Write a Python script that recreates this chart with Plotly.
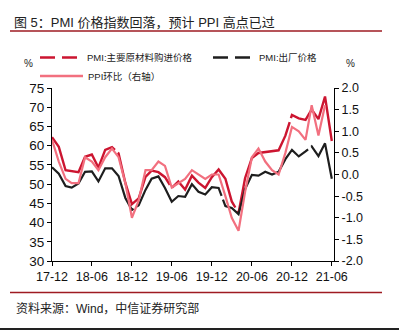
import pandas as pd
import plotly.graph_objects as go

# ---------------- data ----------------
months = pd.date_range("2017-12-01", periods=43, freq="MS")

purchase_price = [62.2,
                  59.7, 53.6, 53.4, 53.1, 57.1, 57.7, 54.3, 58.9, 59.6, 58.0, 50.3, 44.8,
                  46.3, 51.9, 53.5, 53.1, 51.8, 49.0, 50.7, 48.6, 52.2, 50.4, 49.0, 51.8,
                  53.8, 51.4, 45.5, 42.5, 51.6, 56.8, 58.1, 58.3, 58.5, 58.8, 62.6, 68.0,
                  67.1, 66.7, 69.4, 66.9, 72.8, 61.2]

factory_price = [54.4,
                 52.7, 49.5, 49.1, 50.2, 53.2, 53.3, 50.7, 54.1, 54.1, 52.1, 46.4, 43.3,
                 44.5, 48.5, 51.4, 52.0, 49.0, 45.4, 46.9, 46.7, 50.0, 48.0, 47.3, 49.2,
                 49.0, 44.3, 43.8, 42.2, 48.7, 52.4, 52.2, 53.2, 52.5, 53.2, 56.5, 58.9,
                 57.2, 58.5, 59.8, 57.3, 60.6, 51.4]

ppi_mom = [0.8,
           0.3, -0.1, -0.2, -0.2, 0.4, 0.3, 0.1, 0.4, 0.6, 0.4, -0.2, -1.0,
           -0.6, 0.1, 0.1, 0.3, 0.2, -0.3, -0.2, -0.1, 0.1, 0.0, -0.1, 0.0,
           0.0, -0.5, -1.0, -1.3, -0.4, 0.4, 0.6, 0.3, 0.1, 0.0, 0.5, 1.1,
           1.0, 0.8, 1.6, 0.9, 1.6, None]

series_names = ["PMI:主要原材料购进价格", "PMI:出厂价格", "PPI环比（右轴）"]

x_tickvals = ["2017-12-01", "2018-06-01", "2018-12-01", "2019-06-01",
              "2019-12-01", "2020-06-01", "2020-12-01", "2021-06-01"]
x_ticktext = ["17-12", "18-06", "18-12", "19-06", "19-12", "20-06", "20-12", "21-06"]

y1_tickvals = [30, 35, 40, 45, 50, 55, 60, 65, 70, 75]
y2_tickvals = [-2.0, -1.5, -1.0, -0.5, 0.0, 0.5, 1.0, 1.5, 2.0]
y2_ticktext = ["-2.0", "-1.5", "-1.0", "-0.5", "0.0", "0.5", "1.0", "1.5", "2.0"]

title_text = "图 5：PMI 价格指数回落，预计 PPI 高点已过"
source_text = "资料来源：Wind，中信证券研究部"

# ---------------- style ----------------
RED = "#CC1530"
BLACK = "#1E1E1E"
PINK = "#F2707F"
DARKRED = "#9E1B22"
FONT = "Liberation Sans, Arial, Noto Sans CJK SC, sans-serif"

W, H = 399, 330
L, R, T, B = 52, 65, 88, 69
PW, PH = W - L - R, H - T - B


def px(x, y):
    """pixel position -> paper coordinates"""
    return (x - L) / PW, (H - B - y) / PH


fig = go.Figure()
fig.add_trace(go.Scatter(x=months, y=purchase_price, name=series_names[0], mode="lines",
                         line=dict(color=RED, width=2.4, dash="118px,4px"),
                         showlegend=False))
fig.add_trace(go.Scatter(x=months, y=factory_price, name=series_names[1], mode="lines",
                         line=dict(color=BLACK, width=2.2, dash="140px,4px"),
                         showlegend=False))
fig.add_trace(go.Scatter(x=months, y=ppi_mom, name=series_names[2], mode="lines",
                         line=dict(color=PINK, width=2.2), yaxis="y2",
                         showlegend=False))

axis_common = dict(showline=True, linecolor="#000", linewidth=1, ticks="outside",
                   ticklen=4, tickcolor="#000", showgrid=False, zeroline=False)

fig.update_layout(
    width=W, height=H,
    margin=dict(l=L, r=R, t=T, b=B, pad=0),
    paper_bgcolor="white", plot_bgcolor="white",
    font=dict(family=FONT, color="#222"),
    xaxis=dict(range=["2017-12-01", "2021-06-11"], tickvals=x_tickvals,
               ticktext=x_ticktext, tickfont=dict(family=FONT, size=12.5, color="#111"),
               **axis_common),
    yaxis=dict(range=[30, 75], tickvals=y1_tickvals,
               tickfont=dict(family=FONT, size=13.5, color="#111"), **axis_common),
    yaxis2=dict(range=[-2, 2], tickvals=y2_tickvals, ticktext=y2_ticktext,
                overlaying="y", side="right",
                tickfont=dict(family=FONT, size=12.5, color="#111"), **axis_common),
    title=dict(text=title_text, x=14 / W, xanchor="left", xref="container",
               y=1 - 22 / H, yanchor="middle", yref="container",
               font=dict(family=FONT, size=13, color="#222")),
)

shapes = []
annotations = []

# title underline and source line
for yy in (31, 292.5):
    x0, y0 = px(10, yy)
    x1, _ = px(382, yy)
    shapes.append(dict(type="line", xref="paper", yref="paper", x0=x0, x1=x1, y0=y0, y1=y0,
                       line=dict(color=DARKRED, width=1.3)))
# bottom border
x0, y0 = px(0, 329)
x1, _ = px(W, 329)
shapes.append(dict(type="line", xref="paper", yref="paper", x0=x0, x1=x1, y0=y0, y1=y0,
                   line=dict(color="#222", width=2)))

# legend (sample x-start, x-end, text x, y)
legend_items = [
    (series_names[0], RED, "15px,7px", 40, 78, 85, 57.5),
    (series_names[1], BLACK, "15px,7px", 213, 251, 257, 57.5),
    (series_names[2], PINK, "solid", 40, 83, 86, 76),
]
for name, col, dash, xa, xb, xt, yy in legend_items:
    x0, y0 = px(xa, yy)
    x1, _ = px(xb, yy)
    shapes.append(dict(type="line", xref="paper", yref="paper", x0=x0, x1=x1, y0=y0, y1=y0,
                       line=dict(color=col, width=2.4, dash=dash)))
    tx, ty = px(xt, yy)
    annotations.append(dict(text=name, xref="paper", yref="paper", x=tx, y=ty,
                            xanchor="left", yanchor="middle", showarrow=False,
                            font=dict(family=FONT, size=9.5, color="#222")))

# unit labels
for xx in (29, 350):
    ax, ay = px(xx, 63)
    annotations.append(dict(text="%", xref="paper", yref="paper", x=ax, y=ay,
                            xanchor="center", yanchor="middle", showarrow=False,
                            font=dict(family=FONT, size=10, color="#222")))

# source
sx, sy = px(14, 308)
annotations.append(dict(text=source_text, xref="paper", yref="paper", x=sx, y=sy,
                        xanchor="left", yanchor="middle", showarrow=False,
                        font=dict(family=FONT, size=12, color="#222")))

fig.update_layout(shapes=shapes, annotations=annotations)
fig.write_html("out.html")
